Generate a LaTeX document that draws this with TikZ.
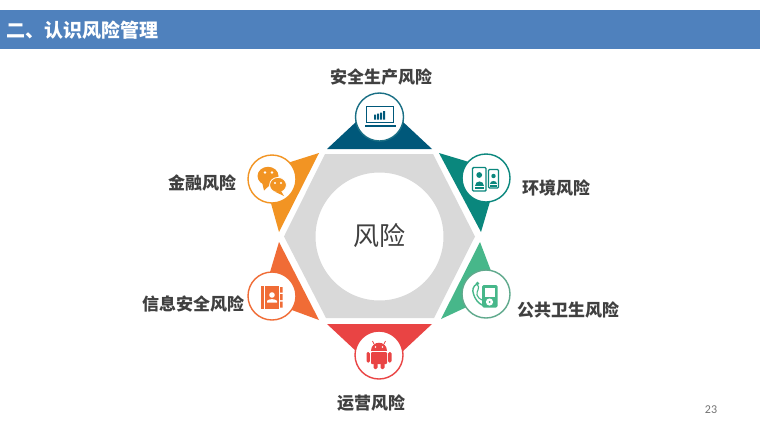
\documentclass[tikz,border=0pt]{standalone}
\usepackage{fontspec}
\setmainfont{Noto Sans CJK SC}
\newfontfamily\numfont{Carlito}
\definecolor{hdr}{HTML}{4F81BD}
\definecolor{cTop}{HTML}{00587A}
\definecolor{cTopL}{HTML}{1A6F85}
\definecolor{cTR}{HTML}{0A877D}
\definecolor{cBR}{HTML}{47B78A}
\definecolor{cBRL}{HTML}{5FA98C}
\definecolor{cBot}{HTML}{E94444}
\definecolor{cBL}{HTML}{F06C36}
\definecolor{cTL}{HTML}{F29423}
\definecolor{hexg}{HTML}{D9D9D9}
\definecolor{lbl}{HTML}{404040}
\tikzset{
  x=1pt,y=-1pt,
  lab/.style={text=lbl,font=\fontsize{17}{17}\selectfont\bfseries,inner sep=0pt},
  disc/.style={circle,fill=white,draw,line width=1.4pt,minimum size=48pt,inner sep=0pt},
}
\begin{document}
\begin{tikzpicture}
\useasboundingbox (0,0) rectangle (760,426);
\fill[white] (0,0) rectangle (760,426);
% header
\fill[hdr] (0,10) rectangle (760,48.5);
\node[text=white,font=\fontsize{19}{19}\selectfont\bfseries,anchor=west,inner sep=0pt] (title) at (6,30.5) {二、认识风险管理};
% hexagon ring
\fill[hexg,even odd rule] (325,154) -- (433,154) -- (475,236.5) -- (434,318) -- (326,318) -- (284,236.5) -- cycle
  (379.5,236.5) circle[radius=64];
\node[text=lbl,font=\fontsize{26}{26}\selectfont,inner sep=0pt] (core) at (379.5,236) {风险};
% triangles
\fill[cTop] (327,149) -- (432,149) -- (379.5,100) -- cycle;
\fill[cTR] (439,153) -- (499,171) -- (481,232) -- cycle;
\fill[cBR] (441,319) -- (499,292) -- (480,242) -- cycle;
\fill[cBot] (327,324) -- (432,324) -- (379.5,373) -- cycle;
\fill[cBL] (319,320) -- (262,299) -- (279,242) -- cycle;
\fill[cTL] (319,153) -- (262,171) -- (279,232) -- cycle;
% discs
\node[disc,draw=cTopL] (d1) at (379.5,117) {};
\node[disc,draw=cTR] (d2) at (486,178) {};
\node[disc,draw=cBRL] (d3) at (486,294) {};
\node[disc,draw=cBot] (d4) at (379,355) {};
\node[disc,draw=cBL] (d5) at (272,296) {};
\node[disc,draw=cTL] (d6) at (272,179) {};
% laptop icon
\draw[cTop,line width=1.4pt] (366.5,106.5) rectangle (393.5,122.5);
\fill[cTop] (364.5,124.5) rectangle (395.5,127);
\fill[cTop] (374,114.5) rectangle (376.2,119.5) (377,113.5) rectangle (379.2,119.5) (380,112.5) rectangle (382.2,119.5) (383,111) rectangle (385.2,119.5);
% phones icon
\draw[cTR,line width=1.4pt,rounded corners=1pt] (472.5,167.5) rectangle (486,191);
\draw[cTR,line width=1.2pt,rounded corners=1pt] (488.5,169.5) rectangle (498.5,188);
\fill[cTR] (479.2,175) circle[radius=2.9];
\fill[cTR] (474.5,185.5) .. controls (474.5,180) and (484,180) .. (484,185.5) -- cycle;
\fill[cTR] (475,187) rectangle (484,189);
\fill[cTR] (493.5,176) circle[radius=2.2];
\fill[cTR] (490,183.5) .. controls (490,179.5) and (497,179.5) .. (497,183.5) -- cycle;
\fill[cTR] (490,184.5) rectangle (497,186.5);
% game device icon
\fill[cBR,rounded corners=1.5pt] (482,285) rectangle (497.5,307.5);
\fill[white] (485,287.5) rectangle (495,297);
\fill[white] (489.5,302) circle[radius=3.6];
\fill[cBR] (489.5,302) circle[radius=1];
\draw[cBR,line width=1.4pt] (477,284) .. controls (473,286) and (472,290) .. (473.5,294) .. controls (475,299) and (478,303) .. (482,305);
\draw[cBR,line width=1.1pt] (477,284) .. controls (481,288) and (476,291) .. (477,295) .. controls (478,298) and (480,299) .. (482,300);
\fill[cBR] (477.5,283.5) circle[radius=1.8];
% android icon
\fill[cBot] (371,351) .. controls (371,340) and (387,340) .. (387,351) -- cycle;
\draw[cBot,line width=.8pt] (374,344) -- (372.5,341) (384,344) -- (385.5,341);
\fill[white] (375.5,347) circle[radius=.9] (382.5,347) circle[radius=.9];
\fill[cBot,rounded corners=1pt] (371,352) rectangle (387,364);
\fill[cBot,rounded corners=1.3pt] (366.5,352) rectangle (369.8,362.5) (388.2,352) rectangle (391.5,362.5);
\fill[cBot,rounded corners=1.3pt] (373.5,362) rectangle (377.5,369) (380.5,362) rectangle (384.5,369);
% address book icon
\fill[cBL] (261,286) rectangle (264,308.5);
\fill[cBL] (265,286) rectangle (279,308.5);
\fill[cBL] (280,287) rectangle (282.5,292.5) (280,294) rectangle (282.5,300) (280,301.5) rectangle (282.5,307.5);
\fill[white] (272,295) circle[radius=2.8];
\fill[white] (267,302.5) -- (267,300.8) .. controls (269,298.6) and (275,298.6) .. (277,300.8) -- (277,302.5) -- cycle;
% chat icon
\fill[cTL] (268,176) ellipse[x radius=10.5,y radius=9.2];
\fill[cTL] (262,182) -- (264,190.5) -- (271,184) -- cycle;
\fill[white] (265,172.5) circle[radius=1.3] (272,172.5) circle[radius=1.3];
\fill[cTL,draw=white,line width=.8pt] (278,185) ellipse[x radius=8.4,y radius=7.6];
\fill[cTL] (281,191) -- (284,196) -- (275.5,192) -- cycle;
\fill[white] (275,183) circle[radius=1.1] (281,183) circle[radius=1.1];
% labels
\node[lab] (l1) at (381,77) {安全生产风险};
\node[lab] (l2) at (556,188) {环境风险};
\node[lab] (l3) at (568,310) {公共卫生风险};
\node[lab] (l4) at (371,403) {运营风险};
\node[lab] (l5) at (193,304) {信息安全风险};
\node[lab] (l6) at (202,183) {金融风险};
\node[text=black!55,font=\numfont\fontsize{12}{12}\selectfont,inner sep=0pt] (pg) at (711,410) {23};
\end{tikzpicture}
\end{document}
